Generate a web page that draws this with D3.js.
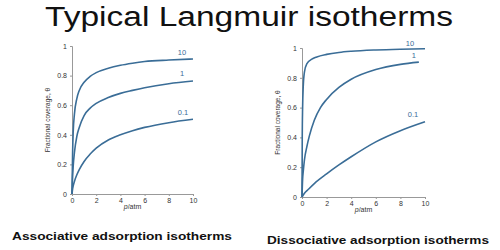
<!DOCTYPE html>
<html lang="en">
<head>
<meta charset="UTF-8">
<title>Typical Langmuir isotherms</title>
<script src="https://d3js.org/d3.v7.min.js"></script>
<style>
  body { margin: 0; background: #fff; font-family: "Liberation Sans", Arial, sans-serif; }
  svg { display: block; }
  .tick text { font-size: 7px; fill: #333; }
  .axis path, .axis line { stroke: #999; }
  .axis-label { font-size: 6.5px; fill: #333; }
  .curve { fill: none; stroke: #3a6d97; stroke-width: 1.6; }
  .curve-label { font-size: 7.5px; fill: #3a6d97; }
</style>
</head>
<body>
<svg id="chart" width="500" height="250"></svg>
<script>
// associative isotherms (left panel), pressure in atm -> coverage
const assocP   = [0, 0.05, 0.1, 0.2, 0.4, 0.6, 1, 1.5, 2, 3, 4, 5, 6, 8, 10];
const assoc10  = [0, 0.28, 0.42, 0.54, 0.645, 0.70, 0.755, 0.795, 0.82, 0.85, 0.87, 0.884, 0.895, 0.905, 0.912];
const assoc1   = [0, 0.12, 0.19, 0.28, 0.39, 0.45, 0.53, 0.58, 0.612, 0.652, 0.68, 0.70, 0.718, 0.745, 0.763];
const assoc01  = [0, 0.035, 0.055, 0.085, 0.13, 0.165, 0.22, 0.27, 0.31, 0.365, 0.40, 0.428, 0.45, 0.482, 0.505];

// dissociative isotherms (right panel)
const dissoc10P = [0, 0.02, 0.05, 0.1, 0.2, 0.4, 0.8, 1.2, 2, 3, 4, 6, 8, 10];
const dissoc10  = [0, 0.4, 0.6, 0.74, 0.84, 0.895, 0.925, 0.94, 0.957, 0.97, 0.978, 0.987, 0.992, 0.995];
const dissoc1P  = [0, 0.05, 0.1, 0.2, 0.4, 0.6, 1, 1.5, 2, 3, 4, 6, 8, 9.5];
const dissoc1   = [0, 0.12, 0.17, 0.25, 0.34, 0.41, 0.515, 0.6, 0.655, 0.735, 0.79, 0.855, 0.89, 0.905];
const dissoc01P = [0, 0.2, 0.5, 1, 2, 3, 4, 6, 8, 10];
const dissoc01  = [0, 0.025, 0.05, 0.09, 0.155, 0.215, 0.27, 0.37, 0.445, 0.505];

const seriesNames = ["10", "1", "0.1"];
const xTicks = [0, 2, 4, 6, 8, 10];
const yTicks = [0, 0.2, 0.4, 0.6, 0.8, 1];

const svg = d3.select("#chart");

svg.append("text")
   .attr("x", 45).attr("y", 26)
   .attr("textLength", 408).attr("lengthAdjust", "spacingAndGlyphs")
   .style("font-size", "27px").style("fill", "#111")
   .text("Typical Langmuir isotherms");

function panel(cfg) {
  const x = d3.scaleLinear().domain([0, 10]).range(cfg.xr);
  const y = d3.scaleLinear().domain([0, 1]).range(cfg.yr);
  const g = svg.append("g");

  g.append("g").attr("class", "axis")
   .attr("transform", `translate(0,${cfg.yr[0]})`)
   .call(d3.axisBottom(x).tickValues(xTicks).tickSize(2).tickPadding(2).tickFormat(d3.format("d")));
  g.append("g").attr("class", "axis")
   .attr("transform", `translate(${cfg.xr[0]},0)`)
   .call(d3.axisLeft(y).tickValues(yTicks).tickSize(2).tickPadding(3).tickFormat(d => d === 0 || d === 1 ? d : d.toFixed(1)));

  const line = d3.line().x(d => x(d[0])).y(d => y(d[1])).curve(d3.curveMonotoneX);
  cfg.series.forEach((s, i) => {
    g.append("path").attr("class", "curve")
     .attr("d", line(d3.zip(s.p, s.v)));
    const last = s.p.length - 1;
    g.append("text").attr("class", "curve-label")
     .attr("x", x(s.p[last]) + s.dx).attr("y", y(s.v[last]) + s.dy)
     .attr("text-anchor", "middle")
     .text(seriesNames[i]);
  });

  g.append("text").attr("class", "axis-label")
   .attr("transform", `translate(${cfg.xr[0] - 22},${(cfg.yr[0] + cfg.yr[1]) / 2}) rotate(-90)`)
   .attr("text-anchor", "middle")
   .text("Fractional coverage, \u03b8");
  g.append("text").attr("class", "axis-label")
   .attr("x", (cfg.xr[0] + cfg.xr[1]) / 2).attr("y", cfg.yr[0] + 15)
   .attr("text-anchor", "middle").style("font-size", "7px")
   .html("<tspan font-style='italic'>p</tspan>/atm");

  svg.append("text")
   .attr("x", cfg.cap[0]).attr("y", cfg.cap[1])
   .attr("textLength", cfg.cap[2]).attr("lengthAdjust", "spacingAndGlyphs")
   .style("font-size", "10px").style("font-weight", "bold").style("fill", "#111")
   .text(cfg.caption);
}

panel({
  xr: [72, 193], yr: [194, 46],
  series: [
    {p: assocP, v: assoc10, dx: -11, dy: -4},
    {p: assocP, v: assoc1, dx: -11, dy: -5},
    {p: assocP, v: assoc01, dx: -10, dy: -4}
  ],
  caption: "Associative adsorption isotherms", cap: [12, 240, 220]
});

panel({
  xr: [302, 425], yr: [197, 48],
  series: [
    {p: dissoc10P, v: dissoc10, dx: -15, dy: -3},
    {p: dissoc1P, v: dissoc1, dx: -5, dy: -4},
    {p: dissoc01P, v: dissoc01, dx: -12, dy: -5}
  ],
  caption: "Dissociative adsorption isotherms", cap: [267, 244, 222]
});
</script>
</body>
</html>
